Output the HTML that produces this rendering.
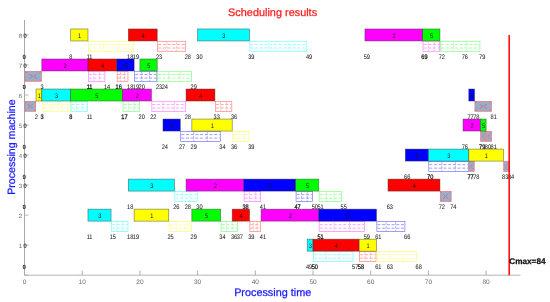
<!DOCTYPE html><html><head><meta charset="utf-8"><style>
html,body{margin:0;padding:0;background:#fff;}
body{width:550px;height:302px;overflow:hidden;position:relative;}
svg{position:absolute;left:0;top:0;}
text{font-family:"Liberation Sans",Arial,sans-serif;text-rendering:geometricPrecision;}
.lb{font-size:6.6px;fill:#2a2a2a;stroke:#2a2a2a;stroke-width:0.08;}
.bn{font-size:6.6px;fill:#1a1a1a;}
.tk{font-size:6.5px;fill:#6a6a6a;}
</style></head><body>
<svg width="550" height="302" viewBox="0 0 550 302">
<text x="272.6" y="16.1" text-anchor="middle" style="font-size:10.9px;fill:#ff1a1a;stroke:#ff1a1a;stroke-width:0.25">Scheduling results</text>
<line x1="24.5" y1="20" x2="24.5" y2="275.2" stroke="#a8a8a8" stroke-width="1"/>
<line x1="24" y1="275.2" x2="520.5" y2="275.2" stroke="#b4b4b4" stroke-width="1"/>
<line x1="82.20" y1="275" x2="82.20" y2="270.5" stroke="#999" stroke-width="0.8"/>
<line x1="139.90" y1="275" x2="139.90" y2="270.5" stroke="#999" stroke-width="0.8"/>
<line x1="197.60" y1="275" x2="197.60" y2="270.5" stroke="#999" stroke-width="0.8"/>
<line x1="255.30" y1="275" x2="255.30" y2="270.5" stroke="#999" stroke-width="0.8"/>
<line x1="313.00" y1="275" x2="313.00" y2="270.5" stroke="#999" stroke-width="0.8"/>
<line x1="370.70" y1="275" x2="370.70" y2="270.5" stroke="#999" stroke-width="0.8"/>
<line x1="428.40" y1="275" x2="428.40" y2="270.5" stroke="#999" stroke-width="0.8"/>
<line x1="486.10" y1="275" x2="486.10" y2="270.5" stroke="#999" stroke-width="0.8"/>
<text class="tk" x="24.50" y="283.7" text-anchor="middle">0</text>
<text class="tk" x="82.20" y="283.7" text-anchor="middle">10</text>
<text class="tk" x="139.90" y="283.7" text-anchor="middle">20</text>
<text class="tk" x="197.60" y="283.7" text-anchor="middle">30</text>
<text class="tk" x="255.30" y="283.7" text-anchor="middle">40</text>
<text class="tk" x="313.00" y="283.7" text-anchor="middle">50</text>
<text class="tk" x="370.70" y="283.7" text-anchor="middle">60</text>
<text class="tk" x="428.40" y="283.7" text-anchor="middle">70</text>
<text class="tk" x="486.10" y="283.7" text-anchor="middle">80</text>
<line x1="24.5" y1="275.20" x2="28.5" y2="275.20" stroke="#aaa" stroke-width="0.8"/>
<line x1="24.5" y1="245.17" x2="28.5" y2="245.17" stroke="#aaa" stroke-width="0.8"/>
<text class="tk" x="22.2" y="247.87" text-anchor="end" style="font-size:6.1px">1</text>
<line x1="24.5" y1="215.14" x2="28.5" y2="215.14" stroke="#aaa" stroke-width="0.8"/>
<text class="tk" x="22.2" y="217.84" text-anchor="end" style="font-size:6.1px">2</text>
<line x1="24.5" y1="185.11" x2="28.5" y2="185.11" stroke="#aaa" stroke-width="0.8"/>
<text class="tk" x="22.2" y="187.81" text-anchor="end" style="font-size:6.1px">3</text>
<line x1="24.5" y1="155.08" x2="28.5" y2="155.08" stroke="#aaa" stroke-width="0.8"/>
<text class="tk" x="22.2" y="157.78" text-anchor="end" style="font-size:6.1px">4</text>
<line x1="24.5" y1="125.05" x2="28.5" y2="125.05" stroke="#aaa" stroke-width="0.8"/>
<text class="tk" x="22.2" y="127.75" text-anchor="end" style="font-size:6.1px">5</text>
<line x1="24.5" y1="95.02" x2="28.5" y2="95.02" stroke="#aaa" stroke-width="0.8"/>
<text class="tk" x="22.2" y="97.72" text-anchor="end" style="font-size:6.1px">6</text>
<line x1="24.5" y1="64.99" x2="28.5" y2="64.99" stroke="#aaa" stroke-width="0.8"/>
<text class="tk" x="22.2" y="67.69" text-anchor="end" style="font-size:6.1px">7</text>
<line x1="24.5" y1="34.96" x2="28.5" y2="34.96" stroke="#aaa" stroke-width="0.8"/>
<text class="tk" x="22.2" y="37.66" text-anchor="end" style="font-size:6.1px">8</text>
<rect x="88.37" y="41.26" width="45.36" height="10.00" fill="none" stroke="#ffff70" stroke-width="0.7"/><line x1="88.97" y1="44.49" x2="133.13" y2="44.49" stroke="#ffff70" stroke-width="0.7" stroke-dasharray="3 1.7"/><line x1="103.36" y1="41.96" x2="103.36" y2="51.06" stroke="#ffffa0" stroke-width="0.75" stroke-dasharray="2.6 1.2"/><line x1="88.97" y1="48.03" x2="133.13" y2="48.03" stroke="#ffff70" stroke-width="0.7" stroke-dasharray="3 1.7"/><line x1="118.74" y1="41.96" x2="118.74" y2="51.06" stroke="#ffffa0" stroke-width="0.75" stroke-dasharray="2.6 1.2"/>
<rect x="157.61" y="41.26" width="28.05" height="10.00" fill="none" stroke="#ff8080" stroke-width="0.7"/><line x1="158.21" y1="44.49" x2="185.06" y2="44.49" stroke="#ff8080" stroke-width="0.7" stroke-dasharray="3 1.7"/><line x1="166.83" y1="41.96" x2="166.83" y2="51.06" stroke="#ffa8a8" stroke-width="0.75" stroke-dasharray="2.6 1.2"/><line x1="158.21" y1="48.03" x2="185.06" y2="48.03" stroke="#ff8080" stroke-width="0.7" stroke-dasharray="3 1.7"/><line x1="176.44" y1="41.96" x2="176.44" y2="51.06" stroke="#ffa8a8" stroke-width="0.75" stroke-dasharray="2.6 1.2"/>
<rect x="249.93" y="41.26" width="56.90" height="10.00" fill="none" stroke="#70ffff" stroke-width="0.7"/><line x1="250.53" y1="44.49" x2="306.23" y2="44.49" stroke="#70ffff" stroke-width="0.7" stroke-dasharray="3 1.7"/><line x1="268.76" y1="41.96" x2="268.76" y2="51.06" stroke="#a0ffff" stroke-width="0.75" stroke-dasharray="2.6 1.2"/><line x1="250.53" y1="48.03" x2="306.23" y2="48.03" stroke="#70ffff" stroke-width="0.7" stroke-dasharray="3 1.7"/><line x1="288.00" y1="41.96" x2="288.00" y2="51.06" stroke="#a0ffff" stroke-width="0.75" stroke-dasharray="2.6 1.2"/>
<rect x="423.03" y="41.26" width="16.51" height="10.00" fill="none" stroke="#ff80ff" stroke-width="0.7"/><line x1="423.63" y1="44.49" x2="438.94" y2="44.49" stroke="#ff80ff" stroke-width="0.7" stroke-dasharray="3 1.7"/><line x1="428.40" y1="41.96" x2="428.40" y2="51.06" stroke="#ffa8ff" stroke-width="0.75" stroke-dasharray="2.6 1.2"/><line x1="423.63" y1="48.03" x2="438.94" y2="48.03" stroke="#ff80ff" stroke-width="0.7" stroke-dasharray="3 1.7"/><line x1="434.17" y1="41.96" x2="434.17" y2="51.06" stroke="#ffa8ff" stroke-width="0.75" stroke-dasharray="2.6 1.2"/>
<rect x="440.34" y="41.26" width="39.59" height="10.00" fill="none" stroke="#80ff80" stroke-width="0.7"/><line x1="440.94" y1="44.49" x2="479.33" y2="44.49" stroke="#80ff80" stroke-width="0.7" stroke-dasharray="3 1.7"/><line x1="453.40" y1="41.96" x2="453.40" y2="51.06" stroke="#a8ffa8" stroke-width="0.75" stroke-dasharray="2.6 1.2"/><line x1="440.94" y1="48.03" x2="479.33" y2="48.03" stroke="#80ff80" stroke-width="0.7" stroke-dasharray="3 1.7"/><line x1="466.87" y1="41.96" x2="466.87" y2="51.06" stroke="#a8ffa8" stroke-width="0.75" stroke-dasharray="2.6 1.2"/>
<rect x="70.66" y="28.96" width="17.31" height="12.00" fill="#ffff00" stroke="#333" stroke-opacity="0.6" stroke-width="0.7"/>
<text class="bn" transform="scale(0.85,1)" x="93.66" y="38.06" text-anchor="middle">1</text>
<rect x="128.36" y="28.96" width="28.85" height="12.00" fill="#ff0000" stroke="#333" stroke-opacity="0.6" stroke-width="0.7"/>
<text class="bn" transform="scale(0.85,1)" x="168.34" y="38.06" text-anchor="middle">4</text>
<rect x="197.60" y="28.96" width="51.93" height="12.00" fill="#00ffff" stroke="#333" stroke-opacity="0.6" stroke-width="0.7"/>
<text class="bn" transform="scale(0.85,1)" x="263.37" y="38.06" text-anchor="middle">3</text>
<rect x="364.93" y="28.96" width="57.70" height="12.00" fill="#ff00ff" stroke="#333" stroke-opacity="0.6" stroke-width="0.7"/>
<text class="bn" transform="scale(0.85,1)" x="463.62" y="38.06" text-anchor="middle">2</text>
<rect x="422.63" y="28.96" width="17.31" height="12.00" fill="#00ff00" stroke="#333" stroke-opacity="0.6" stroke-width="0.7"/>
<text class="bn" transform="scale(0.85,1)" x="507.75" y="38.06" text-anchor="middle">5</text>
<text class="lb" transform="scale(0.85,1)" x="81.60" y="58.96">8</text>
<text class="lb" transform="scale(0.85,1)" x="101.96" y="58.96">11</text>
<text class="lb" transform="scale(0.85,1)" x="149.48" y="58.96">18</text>
<text class="lb" transform="scale(0.85,1)" x="156.27" y="58.96">19</text>
<text class="lb" transform="scale(0.85,1)" x="183.42" y="58.96">23</text>
<text class="lb" transform="scale(0.85,1)" x="217.36" y="58.96">28</text>
<text class="lb" transform="scale(0.85,1)" x="230.94" y="58.96">30</text>
<text class="lb" transform="scale(0.85,1)" x="292.04" y="58.96">39</text>
<text class="lb" transform="scale(0.85,1)" x="359.92" y="58.96">49</text>
<text class="lb" transform="scale(0.85,1)" x="427.80" y="58.96">59</text>
<text class="lb" transform="scale(0.85,1)" x="495.68" y="58.96" style="stroke-width:0.28;fill:#1a1a1a;stroke:#1a1a1a">69</text>
<text class="lb" transform="scale(0.85,1)" x="516.05" y="58.96">72</text>
<text class="lb" transform="scale(0.85,1)" x="543.20" y="58.96">76</text>
<text class="lb" transform="scale(0.85,1)" x="563.56" y="58.96">79</text>
<text x="24.35" y="58.96" text-anchor="middle" style="font-size:6.2px;font-weight:bold;fill:#222">0</text>
<text x="25.0" y="37.56" text-anchor="middle" style="font-size:6.4px;font-weight:bold;fill:#4a4a4a">0</text>
<rect x="88.37" y="71.29" width="16.51" height="10.00" fill="none" stroke="#ff80ff" stroke-width="0.7"/><line x1="88.97" y1="74.52" x2="104.28" y2="74.52" stroke="#ff80ff" stroke-width="0.7" stroke-dasharray="3 1.7"/><line x1="93.74" y1="71.99" x2="93.74" y2="81.09" stroke="#ffa8ff" stroke-width="0.75" stroke-dasharray="2.6 1.2"/><line x1="88.97" y1="78.06" x2="104.28" y2="78.06" stroke="#ff80ff" stroke-width="0.7" stroke-dasharray="3 1.7"/><line x1="99.51" y1="71.99" x2="99.51" y2="81.09" stroke="#ffa8ff" stroke-width="0.75" stroke-dasharray="2.6 1.2"/>
<rect x="117.22" y="71.29" width="10.74" height="10.00" fill="none" stroke="#ff8080" stroke-width="0.7"/><line x1="117.82" y1="74.52" x2="127.36" y2="74.52" stroke="#ff8080" stroke-width="0.7" stroke-dasharray="3 1.7"/><line x1="120.67" y1="71.99" x2="120.67" y2="81.09" stroke="#ffa8a8" stroke-width="0.75" stroke-dasharray="2.6 1.2"/><line x1="117.82" y1="78.06" x2="127.36" y2="78.06" stroke="#ff8080" stroke-width="0.7" stroke-dasharray="3 1.7"/><line x1="124.51" y1="71.99" x2="124.51" y2="81.09" stroke="#ffa8a8" stroke-width="0.75" stroke-dasharray="2.6 1.2"/>
<rect x="134.53" y="71.29" width="22.28" height="10.00" fill="none" stroke="#7474ff" stroke-width="0.7"/><line x1="135.13" y1="74.52" x2="156.21" y2="74.52" stroke="#7474ff" stroke-width="0.7" stroke-dasharray="3 1.7"/><line x1="141.82" y1="71.99" x2="141.82" y2="81.09" stroke="#9898ff" stroke-width="0.75" stroke-dasharray="2.6 1.2"/><line x1="135.13" y1="78.06" x2="156.21" y2="78.06" stroke="#7474ff" stroke-width="0.7" stroke-dasharray="3 1.7"/><line x1="149.52" y1="71.99" x2="149.52" y2="81.09" stroke="#9898ff" stroke-width="0.75" stroke-dasharray="2.6 1.2"/>
<rect x="157.61" y="71.29" width="33.82" height="10.00" fill="none" stroke="#80ff80" stroke-width="0.7"/><line x1="158.21" y1="74.52" x2="190.83" y2="74.52" stroke="#80ff80" stroke-width="0.7" stroke-dasharray="3 1.7"/><line x1="168.75" y1="71.99" x2="168.75" y2="81.09" stroke="#a8ffa8" stroke-width="0.75" stroke-dasharray="2.6 1.2"/><line x1="158.21" y1="78.06" x2="190.83" y2="78.06" stroke="#80ff80" stroke-width="0.7" stroke-dasharray="3 1.7"/><line x1="180.29" y1="71.99" x2="180.29" y2="81.09" stroke="#a8ffa8" stroke-width="0.75" stroke-dasharray="2.6 1.2"/>
<rect x="24.85" y="71.34" width="16.61" height="9.90" fill="#96b0cc" stroke="#ee7070" stroke-width="0.7"/><path d="M25.50 71.99L40.81 80.59M25.50 80.59L40.81 71.99" stroke="#e0607a" stroke-width="0.85" stroke-dasharray="1.58 2.99 3.51 1.40 3.51 2.99 1.58 8.78"/>
<rect x="41.81" y="58.99" width="46.16" height="12.00" fill="#ff00ff" stroke="#333" stroke-opacity="0.6" stroke-width="0.7"/>
<text class="bn" transform="scale(0.85,1)" x="76.69" y="68.09" text-anchor="middle">2</text>
<rect x="87.97" y="58.99" width="28.85" height="12.00" fill="#ff0000" stroke="#333" stroke-opacity="0.6" stroke-width="0.7"/>
<text class="bn" transform="scale(0.85,1)" x="120.82" y="68.09" text-anchor="middle">4</text>
<rect x="116.82" y="58.99" width="17.31" height="12.00" fill="#0000ff" stroke="#333" stroke-opacity="0.6" stroke-width="0.7"/>
<text class="bn" transform="scale(0.85,1)" x="147.97" y="68.09" text-anchor="middle">6</text>
<rect x="139.90" y="58.99" width="17.31" height="12.00" fill="#00ff00" stroke="#333" stroke-opacity="0.6" stroke-width="0.7"/>
<text class="bn" transform="scale(0.85,1)" x="175.12" y="68.09" text-anchor="middle">5</text>
<text class="lb" transform="scale(0.85,1)" x="47.66" y="88.99">3</text>
<text class="lb" transform="scale(0.85,1)" x="101.96" y="88.99" style="stroke-width:0.28;fill:#1a1a1a;stroke:#1a1a1a">11</text>
<text class="lb" transform="scale(0.85,1)" x="122.33" y="88.99">14</text>
<text class="lb" transform="scale(0.85,1)" x="135.91" y="88.99" style="stroke-width:0.28;fill:#1a1a1a;stroke:#1a1a1a">16</text>
<text class="lb" transform="scale(0.85,1)" x="149.48" y="88.99">18</text>
<text class="lb" transform="scale(0.85,1)" x="156.27" y="88.99">19</text>
<text class="lb" transform="scale(0.85,1)" x="163.06" y="88.99">20</text>
<text class="lb" transform="scale(0.85,1)" x="183.42" y="88.99">23</text>
<text class="lb" transform="scale(0.85,1)" x="190.21" y="88.99">24</text>
<text class="lb" transform="scale(0.85,1)" x="224.15" y="88.99">29</text>
<text x="24.35" y="88.99" text-anchor="middle" style="font-size:6.2px;font-weight:bold;fill:#222">0</text>
<text x="25.0" y="67.59" text-anchor="middle" style="font-size:6.4px;font-weight:bold;fill:#4a4a4a">0</text>
<rect x="42.21" y="101.32" width="28.05" height="10.00" fill="none" stroke="#ffff70" stroke-width="0.7"/><line x1="42.81" y1="104.55" x2="69.66" y2="104.55" stroke="#ffff70" stroke-width="0.7" stroke-dasharray="3 1.7"/><line x1="51.43" y1="102.02" x2="51.43" y2="111.12" stroke="#ffffa0" stroke-width="0.75" stroke-dasharray="2.6 1.2"/><line x1="42.81" y1="108.09" x2="69.66" y2="108.09" stroke="#ffff70" stroke-width="0.7" stroke-dasharray="3 1.7"/><line x1="61.04" y1="102.02" x2="61.04" y2="111.12" stroke="#ffffa0" stroke-width="0.75" stroke-dasharray="2.6 1.2"/>
<rect x="71.06" y="101.32" width="16.51" height="10.00" fill="none" stroke="#70ffff" stroke-width="0.7"/><line x1="71.66" y1="104.55" x2="86.97" y2="104.55" stroke="#70ffff" stroke-width="0.7" stroke-dasharray="3 1.7"/><line x1="76.43" y1="102.02" x2="76.43" y2="111.12" stroke="#a0ffff" stroke-width="0.75" stroke-dasharray="2.6 1.2"/><line x1="71.66" y1="108.09" x2="86.97" y2="108.09" stroke="#70ffff" stroke-width="0.7" stroke-dasharray="3 1.7"/><line x1="82.20" y1="102.02" x2="82.20" y2="111.12" stroke="#a0ffff" stroke-width="0.75" stroke-dasharray="2.6 1.2"/>
<rect x="122.99" y="101.32" width="16.51" height="10.00" fill="none" stroke="#80ff80" stroke-width="0.7"/><line x1="123.59" y1="104.55" x2="138.90" y2="104.55" stroke="#80ff80" stroke-width="0.7" stroke-dasharray="3 1.7"/><line x1="128.36" y1="102.02" x2="128.36" y2="111.12" stroke="#a8ffa8" stroke-width="0.75" stroke-dasharray="2.6 1.2"/><line x1="123.59" y1="108.09" x2="138.90" y2="108.09" stroke="#80ff80" stroke-width="0.7" stroke-dasharray="3 1.7"/><line x1="134.13" y1="102.02" x2="134.13" y2="111.12" stroke="#a8ffa8" stroke-width="0.75" stroke-dasharray="2.6 1.2"/>
<rect x="151.84" y="101.32" width="33.82" height="10.00" fill="none" stroke="#ff80ff" stroke-width="0.7"/><line x1="152.44" y1="104.55" x2="185.06" y2="104.55" stroke="#ff80ff" stroke-width="0.7" stroke-dasharray="3 1.7"/><line x1="162.98" y1="102.02" x2="162.98" y2="111.12" stroke="#ffa8ff" stroke-width="0.75" stroke-dasharray="2.6 1.2"/><line x1="152.44" y1="108.09" x2="185.06" y2="108.09" stroke="#ff80ff" stroke-width="0.7" stroke-dasharray="3 1.7"/><line x1="174.52" y1="102.02" x2="174.52" y2="111.12" stroke="#ffa8ff" stroke-width="0.75" stroke-dasharray="2.6 1.2"/>
<rect x="215.31" y="101.32" width="16.51" height="10.00" fill="none" stroke="#ff8080" stroke-width="0.7"/><line x1="215.91" y1="104.55" x2="231.22" y2="104.55" stroke="#ff8080" stroke-width="0.7" stroke-dasharray="3 1.7"/><line x1="220.68" y1="102.02" x2="220.68" y2="111.12" stroke="#ffa8a8" stroke-width="0.75" stroke-dasharray="2.6 1.2"/><line x1="215.91" y1="108.09" x2="231.22" y2="108.09" stroke="#ff8080" stroke-width="0.7" stroke-dasharray="3 1.7"/><line x1="226.45" y1="102.02" x2="226.45" y2="111.12" stroke="#ffa8a8" stroke-width="0.75" stroke-dasharray="2.6 1.2"/>
<rect x="24.85" y="101.37" width="10.84" height="9.90" fill="#96b0cc" stroke="#ee7070" stroke-width="0.7"/><path d="M25.50 102.02L35.04 110.62M25.50 110.62L35.04 102.02" stroke="#e0607a" stroke-width="0.85" stroke-dasharray="1.16 2.18 2.57 1.03 2.57 2.18 1.16 6.42"/>
<rect x="474.91" y="101.37" width="16.61" height="9.90" fill="#96b0cc" stroke="#ee7070" stroke-width="0.7"/><path d="M475.56 102.02L490.87 110.62M475.56 110.62L490.87 102.02" stroke="#e0607a" stroke-width="0.85" stroke-dasharray="1.58 2.99 3.51 1.40 3.51 2.99 1.58 8.78"/>
<rect x="36.04" y="89.02" width="5.77" height="12.00" fill="#ffff00" stroke="#333" stroke-opacity="0.6" stroke-width="0.7"/>
<text class="bn" transform="scale(0.85,1)" x="46.15" y="98.12" text-anchor="middle">1</text>
<rect x="41.81" y="89.02" width="28.85" height="12.00" fill="#00ffff" stroke="#333" stroke-opacity="0.6" stroke-width="0.7"/>
<text class="bn" transform="scale(0.85,1)" x="66.51" y="98.12" text-anchor="middle">3</text>
<rect x="70.66" y="89.02" width="51.93" height="12.00" fill="#00ff00" stroke="#333" stroke-opacity="0.6" stroke-width="0.7"/>
<text class="bn" transform="scale(0.85,1)" x="114.03" y="98.12" text-anchor="middle">5</text>
<rect x="122.59" y="89.02" width="28.85" height="12.00" fill="#ff00ff" stroke="#333" stroke-opacity="0.6" stroke-width="0.7"/>
<text class="bn" transform="scale(0.85,1)" x="161.55" y="98.12" text-anchor="middle">2</text>
<rect x="186.06" y="89.02" width="28.85" height="12.00" fill="#ff0000" stroke="#333" stroke-opacity="0.6" stroke-width="0.7"/>
<text class="bn" transform="scale(0.85,1)" x="236.22" y="98.12" text-anchor="middle">4</text>
<rect x="468.79" y="89.02" width="5.77" height="12.00" fill="#0000ff" stroke="#333" stroke-opacity="0.6" stroke-width="0.7"/>
<text class="bn" transform="scale(0.85,1)" x="555.26" y="98.12" text-anchor="middle">6</text>
<text class="lb" transform="scale(0.85,1)" x="40.87" y="119.02">2</text>
<text class="lb" transform="scale(0.85,1)" x="47.66" y="119.02" style="stroke-width:0.28;fill:#1a1a1a;stroke:#1a1a1a">3</text>
<text class="lb" transform="scale(0.85,1)" x="81.60" y="119.02" style="stroke-width:0.28;fill:#1a1a1a;stroke:#1a1a1a">8</text>
<text class="lb" transform="scale(0.85,1)" x="101.96" y="119.02">11</text>
<text class="lb" transform="scale(0.85,1)" x="142.69" y="119.02" style="stroke-width:0.28;fill:#1a1a1a;stroke:#1a1a1a">17</text>
<text class="lb" transform="scale(0.85,1)" x="163.06" y="119.02">20</text>
<text class="lb" transform="scale(0.85,1)" x="176.64" y="119.02">22</text>
<text class="lb" transform="scale(0.85,1)" x="217.36" y="119.02">28</text>
<text class="lb" transform="scale(0.85,1)" x="251.31" y="119.02">33</text>
<text class="lb" transform="scale(0.85,1)" x="271.67" y="119.02">36</text>
<text class="lb" transform="scale(0.85,1)" x="549.99" y="119.02">77</text>
<text class="lb" transform="scale(0.85,1)" x="556.78" y="119.02">78</text>
<text class="lb" transform="scale(0.85,1)" x="577.14" y="119.02">81</text>
<rect x="180.69" y="131.35" width="39.59" height="10.00" fill="none" stroke="#7474ff" stroke-width="0.7"/><line x1="181.29" y1="134.58" x2="219.68" y2="134.58" stroke="#7474ff" stroke-width="0.7" stroke-dasharray="3 1.7"/><line x1="193.75" y1="132.05" x2="193.75" y2="141.15" stroke="#9898ff" stroke-width="0.75" stroke-dasharray="2.6 1.2"/><line x1="181.29" y1="138.12" x2="219.68" y2="138.12" stroke="#7474ff" stroke-width="0.7" stroke-dasharray="3 1.7"/><line x1="207.22" y1="132.05" x2="207.22" y2="141.15" stroke="#9898ff" stroke-width="0.75" stroke-dasharray="2.6 1.2"/>
<rect x="232.62" y="131.35" width="16.51" height="10.00" fill="none" stroke="#ffff70" stroke-width="0.7"/><line x1="233.22" y1="134.58" x2="248.53" y2="134.58" stroke="#ffff70" stroke-width="0.7" stroke-dasharray="3 1.7"/><line x1="237.99" y1="132.05" x2="237.99" y2="141.15" stroke="#ffffa0" stroke-width="0.75" stroke-dasharray="2.6 1.2"/><line x1="233.22" y1="138.12" x2="248.53" y2="138.12" stroke="#ffff70" stroke-width="0.7" stroke-dasharray="3 1.7"/><line x1="243.76" y1="132.05" x2="243.76" y2="141.15" stroke="#ffffa0" stroke-width="0.75" stroke-dasharray="2.6 1.2"/>
<rect x="480.68" y="131.40" width="5.07" height="9.90" fill="#96b0cc" stroke="#ee7070" stroke-width="0.7"/><path d="M484.80 133.35L482.35 136.35L484.80 139.35" fill="none" stroke="#dc6a84" stroke-width="0.75"/>
<rect x="486.45" y="131.40" width="5.07" height="9.90" fill="#96b0cc" stroke="#ee7070" stroke-width="0.7"/><path d="M490.57 133.35L488.12 136.35L490.57 139.35" fill="none" stroke="#dc6a84" stroke-width="0.75"/>
<rect x="162.98" y="119.05" width="17.31" height="12.00" fill="#0000ff" stroke="#333" stroke-opacity="0.6" stroke-width="0.7"/>
<text class="bn" transform="scale(0.85,1)" x="202.28" y="128.15" text-anchor="middle">6</text>
<rect x="191.83" y="119.05" width="40.39" height="12.00" fill="#ffff00" stroke="#333" stroke-opacity="0.6" stroke-width="0.7"/>
<text class="bn" transform="scale(0.85,1)" x="249.79" y="128.15" text-anchor="middle">1</text>
<rect x="463.02" y="119.05" width="17.31" height="12.00" fill="#ff00ff" stroke="#333" stroke-opacity="0.6" stroke-width="0.7"/>
<text class="bn" transform="scale(0.85,1)" x="555.26" y="128.15" text-anchor="middle">2</text>
<rect x="480.33" y="119.05" width="5.77" height="12.00" fill="#00ff00" stroke="#333" stroke-opacity="0.6" stroke-width="0.7"/>
<text class="bn" transform="scale(0.85,1)" x="568.84" y="128.15" text-anchor="middle">5</text>
<text class="lb" transform="scale(0.85,1)" x="190.21" y="149.05">24</text>
<text class="lb" transform="scale(0.85,1)" x="210.58" y="149.05">27</text>
<text class="lb" transform="scale(0.85,1)" x="224.15" y="149.05">29</text>
<text class="lb" transform="scale(0.85,1)" x="258.09" y="149.05">34</text>
<text class="lb" transform="scale(0.85,1)" x="271.67" y="149.05">36</text>
<text class="lb" transform="scale(0.85,1)" x="292.04" y="149.05">39</text>
<text class="lb" transform="scale(0.85,1)" x="543.20" y="149.05">76</text>
<text class="lb" transform="scale(0.85,1)" x="563.56" y="149.05" style="stroke-width:0.28;fill:#1a1a1a;stroke:#1a1a1a">79</text>
<text class="lb" transform="scale(0.85,1)" x="570.35" y="149.05">80</text>
<text class="lb" transform="scale(0.85,1)" x="577.14" y="149.05">81</text>
<text x="24.35" y="149.05" text-anchor="middle" style="font-size:6.2px;font-weight:bold;fill:#222">0</text>
<text x="25.0" y="127.65" text-anchor="middle" style="font-size:6.4px;font-weight:bold;fill:#4a4a4a">0</text>
<rect x="428.80" y="161.38" width="39.59" height="10.00" fill="none" stroke="#7474ff" stroke-width="0.7"/><line x1="429.40" y1="164.61" x2="467.79" y2="164.61" stroke="#7474ff" stroke-width="0.7" stroke-dasharray="3 1.7"/><line x1="441.86" y1="162.08" x2="441.86" y2="171.18" stroke="#9898ff" stroke-width="0.75" stroke-dasharray="2.6 1.2"/><line x1="429.40" y1="168.15" x2="467.79" y2="168.15" stroke="#7474ff" stroke-width="0.7" stroke-dasharray="3 1.7"/><line x1="455.33" y1="162.08" x2="455.33" y2="171.18" stroke="#9898ff" stroke-width="0.75" stroke-dasharray="2.6 1.2"/>
<rect x="469.14" y="161.43" width="5.07" height="9.90" fill="#96b0cc" stroke="#ee7070" stroke-width="0.7"/><path d="M473.26 163.38L470.81 166.38L473.26 169.38" fill="none" stroke="#dc6a84" stroke-width="0.75"/>
<rect x="503.76" y="161.43" width="5.07" height="9.90" fill="#96b0cc" stroke="#ee7070" stroke-width="0.7"/><path d="M507.88 163.38L505.43 166.38L507.88 169.38" fill="none" stroke="#dc6a84" stroke-width="0.75"/>
<rect x="405.32" y="149.08" width="23.08" height="12.00" fill="#0000ff" stroke="#333" stroke-opacity="0.6" stroke-width="0.7"/>
<text class="bn" transform="scale(0.85,1)" x="490.78" y="158.18" text-anchor="middle">6</text>
<rect x="428.40" y="149.08" width="40.39" height="12.00" fill="#00ffff" stroke="#333" stroke-opacity="0.6" stroke-width="0.7"/>
<text class="bn" transform="scale(0.85,1)" x="528.11" y="158.18" text-anchor="middle">3</text>
<rect x="468.79" y="149.08" width="34.62" height="12.00" fill="#ffff00" stroke="#333" stroke-opacity="0.6" stroke-width="0.7"/>
<text class="bn" transform="scale(0.85,1)" x="572.24" y="158.18" text-anchor="middle">1</text>
<text class="lb" transform="scale(0.85,1)" x="475.32" y="179.08">66</text>
<text class="lb" transform="scale(0.85,1)" x="502.47" y="179.08" style="stroke-width:0.28;fill:#1a1a1a;stroke:#1a1a1a">70</text>
<text class="lb" transform="scale(0.85,1)" x="549.99" y="179.08" style="stroke-width:0.28;fill:#1a1a1a;stroke:#1a1a1a">77</text>
<text class="lb" transform="scale(0.85,1)" x="556.78" y="179.08">78</text>
<text class="lb" transform="scale(0.85,1)" x="590.72" y="179.08">83</text>
<text class="lb" transform="scale(0.85,1)" x="597.51" y="179.08">84</text>
<text x="24.35" y="179.08" text-anchor="middle" style="font-size:6.2px;font-weight:bold;fill:#222">0</text>
<text x="25.0" y="157.68" text-anchor="middle" style="font-size:6.4px;font-weight:bold;fill:#4a4a4a">0</text>
<rect x="174.92" y="191.41" width="22.28" height="10.00" fill="none" stroke="#70ffff" stroke-width="0.7"/><line x1="175.52" y1="194.64" x2="196.60" y2="194.64" stroke="#70ffff" stroke-width="0.7" stroke-dasharray="3 1.7"/><line x1="182.21" y1="192.11" x2="182.21" y2="201.21" stroke="#a0ffff" stroke-width="0.75" stroke-dasharray="2.6 1.2"/><line x1="175.52" y1="198.18" x2="196.60" y2="198.18" stroke="#70ffff" stroke-width="0.7" stroke-dasharray="3 1.7"/><line x1="189.91" y1="192.11" x2="189.91" y2="201.21" stroke="#a0ffff" stroke-width="0.75" stroke-dasharray="2.6 1.2"/>
<rect x="244.16" y="191.41" width="16.51" height="10.00" fill="none" stroke="#ff80ff" stroke-width="0.7"/><line x1="244.76" y1="194.64" x2="260.07" y2="194.64" stroke="#ff80ff" stroke-width="0.7" stroke-dasharray="3 1.7"/><line x1="249.53" y1="192.11" x2="249.53" y2="201.21" stroke="#ffa8ff" stroke-width="0.75" stroke-dasharray="2.6 1.2"/><line x1="244.76" y1="198.18" x2="260.07" y2="198.18" stroke="#ff80ff" stroke-width="0.7" stroke-dasharray="3 1.7"/><line x1="255.30" y1="192.11" x2="255.30" y2="201.21" stroke="#ffa8ff" stroke-width="0.75" stroke-dasharray="2.6 1.2"/>
<rect x="296.09" y="191.41" width="16.51" height="10.00" fill="none" stroke="#7474ff" stroke-width="0.7"/><line x1="296.69" y1="194.64" x2="312.00" y2="194.64" stroke="#7474ff" stroke-width="0.7" stroke-dasharray="3 1.7"/><line x1="301.46" y1="192.11" x2="301.46" y2="201.21" stroke="#9898ff" stroke-width="0.75" stroke-dasharray="2.6 1.2"/><line x1="296.69" y1="198.18" x2="312.00" y2="198.18" stroke="#7474ff" stroke-width="0.7" stroke-dasharray="3 1.7"/><line x1="307.23" y1="192.11" x2="307.23" y2="201.21" stroke="#9898ff" stroke-width="0.75" stroke-dasharray="2.6 1.2"/>
<rect x="319.17" y="191.41" width="22.28" height="10.00" fill="none" stroke="#80ff80" stroke-width="0.7"/><line x1="319.77" y1="194.64" x2="340.85" y2="194.64" stroke="#80ff80" stroke-width="0.7" stroke-dasharray="3 1.7"/><line x1="326.46" y1="192.11" x2="326.46" y2="201.21" stroke="#a8ffa8" stroke-width="0.75" stroke-dasharray="2.6 1.2"/><line x1="319.77" y1="198.18" x2="340.85" y2="198.18" stroke="#80ff80" stroke-width="0.7" stroke-dasharray="3 1.7"/><line x1="334.16" y1="192.11" x2="334.16" y2="201.21" stroke="#a8ffa8" stroke-width="0.75" stroke-dasharray="2.6 1.2"/>
<rect x="440.29" y="191.46" width="10.84" height="9.90" fill="#96b0cc" stroke="#ee7070" stroke-width="0.7"/><path d="M440.94 192.11L450.48 200.71M440.94 200.71L450.48 192.11" stroke="#e0607a" stroke-width="0.85" stroke-dasharray="1.16 2.18 2.57 1.03 2.57 2.18 1.16 6.42"/>
<rect x="128.36" y="179.11" width="46.16" height="12.00" fill="#00ffff" stroke="#333" stroke-opacity="0.6" stroke-width="0.7"/>
<text class="bn" transform="scale(0.85,1)" x="178.52" y="188.21" text-anchor="middle">3</text>
<rect x="186.06" y="179.11" width="57.70" height="12.00" fill="#ff00ff" stroke="#333" stroke-opacity="0.6" stroke-width="0.7"/>
<text class="bn" transform="scale(0.85,1)" x="253.19" y="188.21" text-anchor="middle">2</text>
<rect x="243.76" y="179.11" width="51.93" height="12.00" fill="#0000ff" stroke="#333" stroke-opacity="0.6" stroke-width="0.7"/>
<text class="bn" transform="scale(0.85,1)" x="317.68" y="188.21" text-anchor="middle">6</text>
<rect x="295.69" y="179.11" width="23.08" height="12.00" fill="#00ff00" stroke="#333" stroke-opacity="0.6" stroke-width="0.7"/>
<text class="bn" transform="scale(0.85,1)" x="361.80" y="188.21" text-anchor="middle">5</text>
<rect x="388.01" y="179.11" width="51.93" height="12.00" fill="#ff0000" stroke="#333" stroke-opacity="0.6" stroke-width="0.7"/>
<text class="bn" transform="scale(0.85,1)" x="487.38" y="188.21" text-anchor="middle">4</text>
<text class="lb" transform="scale(0.85,1)" x="149.48" y="209.11">18</text>
<text class="lb" transform="scale(0.85,1)" x="203.79" y="209.11">26</text>
<text class="lb" transform="scale(0.85,1)" x="217.36" y="209.11">28</text>
<text class="lb" transform="scale(0.85,1)" x="230.94" y="209.11">30</text>
<text class="lb" transform="scale(0.85,1)" x="285.25" y="209.11" style="stroke-width:0.28;fill:#1a1a1a;stroke:#1a1a1a">38</text>
<text class="lb" transform="scale(0.85,1)" x="305.61" y="209.11">41</text>
<text class="lb" transform="scale(0.85,1)" x="346.34" y="209.11" style="stroke-width:0.28;fill:#1a1a1a;stroke:#1a1a1a">47</text>
<text class="lb" transform="scale(0.85,1)" x="366.71" y="209.11">50</text>
<text class="lb" transform="scale(0.85,1)" x="373.49" y="209.11">51</text>
<text class="lb" transform="scale(0.85,1)" x="400.65" y="209.11">55</text>
<text class="lb" transform="scale(0.85,1)" x="454.95" y="209.11">63</text>
<text class="lb" transform="scale(0.85,1)" x="516.05" y="209.11">72</text>
<text class="lb" transform="scale(0.85,1)" x="529.62" y="209.11">74</text>
<text x="24.35" y="209.11" text-anchor="middle" style="font-size:6.2px;font-weight:bold;fill:#222">0</text>
<text x="25.0" y="187.71" text-anchor="middle" style="font-size:6.4px;font-weight:bold;fill:#4a4a4a">0</text>
<rect x="111.45" y="221.44" width="16.51" height="10.00" fill="none" stroke="#70ffff" stroke-width="0.7"/><line x1="112.05" y1="224.67" x2="127.36" y2="224.67" stroke="#70ffff" stroke-width="0.7" stroke-dasharray="3 1.7"/><line x1="116.82" y1="222.14" x2="116.82" y2="231.24" stroke="#a0ffff" stroke-width="0.75" stroke-dasharray="2.6 1.2"/><line x1="112.05" y1="228.21" x2="127.36" y2="228.21" stroke="#70ffff" stroke-width="0.7" stroke-dasharray="3 1.7"/><line x1="122.59" y1="222.14" x2="122.59" y2="231.24" stroke="#a0ffff" stroke-width="0.75" stroke-dasharray="2.6 1.2"/>
<rect x="169.15" y="221.44" width="22.28" height="10.00" fill="none" stroke="#ffff70" stroke-width="0.7"/><line x1="169.75" y1="224.67" x2="190.83" y2="224.67" stroke="#ffff70" stroke-width="0.7" stroke-dasharray="3 1.7"/><line x1="176.44" y1="222.14" x2="176.44" y2="231.24" stroke="#ffffa0" stroke-width="0.75" stroke-dasharray="2.6 1.2"/><line x1="169.75" y1="228.21" x2="190.83" y2="228.21" stroke="#ffff70" stroke-width="0.7" stroke-dasharray="3 1.7"/><line x1="184.14" y1="222.14" x2="184.14" y2="231.24" stroke="#ffffa0" stroke-width="0.75" stroke-dasharray="2.6 1.2"/>
<rect x="221.08" y="221.44" width="16.51" height="10.00" fill="none" stroke="#80ff80" stroke-width="0.7"/><line x1="221.68" y1="224.67" x2="236.99" y2="224.67" stroke="#80ff80" stroke-width="0.7" stroke-dasharray="3 1.7"/><line x1="226.45" y1="222.14" x2="226.45" y2="231.24" stroke="#a8ffa8" stroke-width="0.75" stroke-dasharray="2.6 1.2"/><line x1="221.68" y1="228.21" x2="236.99" y2="228.21" stroke="#80ff80" stroke-width="0.7" stroke-dasharray="3 1.7"/><line x1="232.22" y1="222.14" x2="232.22" y2="231.24" stroke="#a8ffa8" stroke-width="0.75" stroke-dasharray="2.6 1.2"/>
<rect x="249.93" y="221.44" width="10.74" height="10.00" fill="none" stroke="#ff8080" stroke-width="0.7"/><line x1="250.53" y1="224.67" x2="260.07" y2="224.67" stroke="#ff8080" stroke-width="0.7" stroke-dasharray="3 1.7"/><line x1="253.38" y1="222.14" x2="253.38" y2="231.24" stroke="#ffa8a8" stroke-width="0.75" stroke-dasharray="2.6 1.2"/><line x1="250.53" y1="228.21" x2="260.07" y2="228.21" stroke="#ff8080" stroke-width="0.7" stroke-dasharray="3 1.7"/><line x1="257.22" y1="222.14" x2="257.22" y2="231.24" stroke="#ffa8a8" stroke-width="0.75" stroke-dasharray="2.6 1.2"/>
<rect x="319.17" y="221.44" width="45.36" height="10.00" fill="none" stroke="#ff80ff" stroke-width="0.7"/><line x1="319.77" y1="224.67" x2="363.93" y2="224.67" stroke="#ff80ff" stroke-width="0.7" stroke-dasharray="3 1.7"/><line x1="334.16" y1="222.14" x2="334.16" y2="231.24" stroke="#ffa8ff" stroke-width="0.75" stroke-dasharray="2.6 1.2"/><line x1="319.77" y1="228.21" x2="363.93" y2="228.21" stroke="#ff80ff" stroke-width="0.7" stroke-dasharray="3 1.7"/><line x1="349.54" y1="222.14" x2="349.54" y2="231.24" stroke="#ffa8ff" stroke-width="0.75" stroke-dasharray="2.6 1.2"/>
<rect x="376.87" y="221.44" width="28.05" height="10.00" fill="none" stroke="#7474ff" stroke-width="0.7"/><line x1="377.47" y1="224.67" x2="404.32" y2="224.67" stroke="#7474ff" stroke-width="0.7" stroke-dasharray="3 1.7"/><line x1="386.09" y1="222.14" x2="386.09" y2="231.24" stroke="#9898ff" stroke-width="0.75" stroke-dasharray="2.6 1.2"/><line x1="377.47" y1="228.21" x2="404.32" y2="228.21" stroke="#7474ff" stroke-width="0.7" stroke-dasharray="3 1.7"/><line x1="395.70" y1="222.14" x2="395.70" y2="231.24" stroke="#9898ff" stroke-width="0.75" stroke-dasharray="2.6 1.2"/>
<rect x="87.97" y="209.14" width="23.08" height="12.00" fill="#00ffff" stroke="#333" stroke-opacity="0.6" stroke-width="0.7"/>
<text class="bn" transform="scale(0.85,1)" x="117.42" y="218.24" text-anchor="middle">3</text>
<rect x="134.13" y="209.14" width="34.62" height="12.00" fill="#ffff00" stroke="#333" stroke-opacity="0.6" stroke-width="0.7"/>
<text class="bn" transform="scale(0.85,1)" x="178.52" y="218.24" text-anchor="middle">1</text>
<rect x="191.83" y="209.14" width="28.85" height="12.00" fill="#00ff00" stroke="#333" stroke-opacity="0.6" stroke-width="0.7"/>
<text class="bn" transform="scale(0.85,1)" x="243.01" y="218.24" text-anchor="middle">5</text>
<rect x="232.22" y="209.14" width="17.31" height="12.00" fill="#ff0000" stroke="#333" stroke-opacity="0.6" stroke-width="0.7"/>
<text class="bn" transform="scale(0.85,1)" x="283.74" y="218.24" text-anchor="middle">4</text>
<rect x="261.07" y="209.14" width="57.70" height="12.00" fill="#ff00ff" stroke="#333" stroke-opacity="0.6" stroke-width="0.7"/>
<text class="bn" transform="scale(0.85,1)" x="341.44" y="218.24" text-anchor="middle">2</text>
<rect x="318.77" y="209.14" width="57.70" height="12.00" fill="#0000ff" stroke="#333" stroke-opacity="0.6" stroke-width="0.7"/>
<text class="bn" transform="scale(0.85,1)" x="409.32" y="218.24" text-anchor="middle">6</text>
<text class="lb" transform="scale(0.85,1)" x="101.96" y="239.14">11</text>
<text class="lb" transform="scale(0.85,1)" x="129.12" y="239.14">15</text>
<text class="lb" transform="scale(0.85,1)" x="149.48" y="239.14">18</text>
<text class="lb" transform="scale(0.85,1)" x="156.27" y="239.14">19</text>
<text class="lb" transform="scale(0.85,1)" x="197.00" y="239.14">25</text>
<text class="lb" transform="scale(0.85,1)" x="224.15" y="239.14">29</text>
<text class="lb" transform="scale(0.85,1)" x="258.09" y="239.14">34</text>
<text class="lb" transform="scale(0.85,1)" x="271.67" y="239.14">36</text>
<text class="lb" transform="scale(0.85,1)" x="278.46" y="239.14">37</text>
<text class="lb" transform="scale(0.85,1)" x="292.04" y="239.14">39</text>
<text class="lb" transform="scale(0.85,1)" x="305.61" y="239.14">41</text>
<text class="lb" transform="scale(0.85,1)" x="373.49" y="239.14" style="stroke-width:0.28;fill:#1a1a1a;stroke:#1a1a1a">51</text>
<text class="lb" transform="scale(0.85,1)" x="427.80" y="239.14">59</text>
<text class="lb" transform="scale(0.85,1)" x="441.38" y="239.14">61</text>
<text class="lb" transform="scale(0.85,1)" x="475.32" y="239.14">66</text>
<rect x="313.40" y="251.47" width="39.59" height="10.00" fill="none" stroke="#70ffff" stroke-width="0.7"/><line x1="314.00" y1="254.70" x2="352.39" y2="254.70" stroke="#70ffff" stroke-width="0.7" stroke-dasharray="3 1.7"/><line x1="326.46" y1="252.17" x2="326.46" y2="261.27" stroke="#a0ffff" stroke-width="0.75" stroke-dasharray="2.6 1.2"/><line x1="314.00" y1="258.24" x2="352.39" y2="258.24" stroke="#70ffff" stroke-width="0.7" stroke-dasharray="3 1.7"/><line x1="339.93" y1="252.17" x2="339.93" y2="261.27" stroke="#a0ffff" stroke-width="0.75" stroke-dasharray="2.6 1.2"/>
<rect x="359.56" y="251.47" width="16.51" height="10.00" fill="none" stroke="#ff8080" stroke-width="0.7"/><line x1="360.16" y1="254.70" x2="375.47" y2="254.70" stroke="#ff8080" stroke-width="0.7" stroke-dasharray="3 1.7"/><line x1="364.93" y1="252.17" x2="364.93" y2="261.27" stroke="#ffa8a8" stroke-width="0.75" stroke-dasharray="2.6 1.2"/><line x1="360.16" y1="258.24" x2="375.47" y2="258.24" stroke="#ff8080" stroke-width="0.7" stroke-dasharray="3 1.7"/><line x1="370.70" y1="252.17" x2="370.70" y2="261.27" stroke="#ffa8a8" stroke-width="0.75" stroke-dasharray="2.6 1.2"/>
<rect x="376.87" y="251.47" width="39.59" height="10.00" fill="none" stroke="#ffff70" stroke-width="0.7"/><line x1="377.47" y1="254.70" x2="415.86" y2="254.70" stroke="#ffff70" stroke-width="0.7" stroke-dasharray="3 1.7"/><line x1="389.93" y1="252.17" x2="389.93" y2="261.27" stroke="#ffffa0" stroke-width="0.75" stroke-dasharray="2.6 1.2"/><line x1="377.47" y1="258.24" x2="415.86" y2="258.24" stroke="#ffff70" stroke-width="0.7" stroke-dasharray="3 1.7"/><line x1="403.40" y1="252.17" x2="403.40" y2="261.27" stroke="#ffffa0" stroke-width="0.75" stroke-dasharray="2.6 1.2"/>
<rect x="307.23" y="239.17" width="5.77" height="12.00" fill="#00ffff" stroke="#333" stroke-opacity="0.6" stroke-width="0.7"/>
<text class="bn" transform="scale(0.85,1)" x="365.19" y="248.27" text-anchor="middle">3</text>
<rect x="313.00" y="239.17" width="46.16" height="12.00" fill="#ff0000" stroke="#333" stroke-opacity="0.6" stroke-width="0.7"/>
<text class="bn" transform="scale(0.85,1)" x="395.74" y="248.27" text-anchor="middle">4</text>
<rect x="359.16" y="239.17" width="17.31" height="12.00" fill="#ffff00" stroke="#333" stroke-opacity="0.6" stroke-width="0.7"/>
<text class="bn" transform="scale(0.85,1)" x="433.08" y="248.27" text-anchor="middle">1</text>
<text class="lb" transform="scale(0.85,1)" x="359.92" y="269.17">49</text>
<text class="lb" transform="scale(0.85,1)" x="366.71" y="269.17" style="stroke-width:0.28;fill:#1a1a1a;stroke:#1a1a1a">50</text>
<text class="lb" transform="scale(0.85,1)" x="414.22" y="269.17">57</text>
<text class="lb" transform="scale(0.85,1)" x="421.01" y="269.17" style="stroke-width:0.28;fill:#1a1a1a;stroke:#1a1a1a">58</text>
<text class="lb" transform="scale(0.85,1)" x="441.38" y="269.17">61</text>
<text class="lb" transform="scale(0.85,1)" x="454.95" y="269.17">63</text>
<text class="lb" transform="scale(0.85,1)" x="488.89" y="269.17">68</text>
<text x="24.35" y="269.17" text-anchor="middle" style="font-size:6.2px;font-weight:bold;fill:#222">0</text>
<text x="25.0" y="247.77" text-anchor="middle" style="font-size:6.4px;font-weight:bold;fill:#4a4a4a">0</text>
<line x1="509.18" y1="34.96" x2="509.18" y2="275.2" stroke="#ff0000" stroke-width="1.5"/>
<text x="509.3" y="263.6" style="font-size:8.2px;font-weight:bold;fill:#111;stroke:#111;stroke-width:0.25">Cmax=84</text>
<text x="272.7" y="295.6" text-anchor="middle" style="font-size:10.85px;fill:#1a1aff;stroke:#1a1aff;stroke-width:0.25">Processing time</text>
<text transform="translate(14.9,147.1) rotate(-90)" text-anchor="middle" style="font-size:10.6px;fill:#1a1aff;stroke:#1a1aff;stroke-width:0.25">Processing machine</text>
</svg></body></html>
